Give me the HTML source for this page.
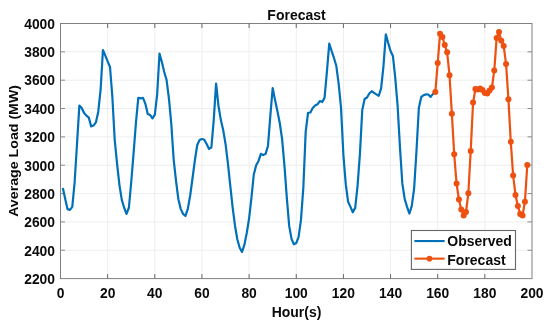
<!DOCTYPE html>
<html lang="en">
<head>
<meta charset="utf-8">
<title>Forecast</title>
<style>html,body{margin:0;padding:0;background:#fff;}body{width:550px;height:326px;overflow:hidden;}</style>
</head>
<body>
<svg width="550" height="326" viewBox="0 0 550 326" style="display:block" font-family='"Liberation Sans", Arial, Helvetica, sans-serif' font-weight="bold" fill="#0a0a0a">
<rect x="0" y="0" width="550" height="326" fill="#ffffff"/>
<path d="M107.65 23.50V278.60M154.80 23.50V278.60M201.95 23.50V278.60M249.10 23.50V278.60M296.25 23.50V278.60M343.40 23.50V278.60M390.55 23.50V278.60M437.70 23.50V278.60M484.85 23.50V278.60M60.50 250.26H532.00M60.50 221.91H532.00M60.50 193.57H532.00M60.50 165.22H532.00M60.50 136.88H532.00M60.50 108.53H532.00M60.50 80.19H532.00M60.50 51.84H532.00" stroke="#eeeeee" stroke-width="1" fill="none"/>
<rect x="60.50" y="23.50" width="471.50" height="255.10" fill="none" stroke="#808080" stroke-width="1"/>
<path d="M107.65 278.60v-4.5M107.65 23.50v4.5M154.80 278.60v-4.5M154.80 23.50v4.5M201.95 278.60v-4.5M201.95 23.50v4.5M249.10 278.60v-4.5M249.10 23.50v4.5M296.25 278.60v-4.5M296.25 23.50v4.5M343.40 278.60v-4.5M343.40 23.50v4.5M390.55 278.60v-4.5M390.55 23.50v4.5M437.70 278.60v-4.5M437.70 23.50v4.5M484.85 278.60v-4.5M484.85 23.50v4.5" stroke="#666666" stroke-width="1" fill="none"/>
<path d="M60.50 250.26h4.5M532.00 250.26h-4.5M60.50 221.91h4.5M532.00 221.91h-4.5M60.50 193.57h4.5M532.00 193.57h-4.5M60.50 165.22h4.5M532.00 165.22h-4.5M60.50 136.88h4.5M532.00 136.88h-4.5M60.50 108.53h4.5M532.00 108.53h-4.5M60.50 80.19h4.5M532.00 80.19h-4.5M60.50 51.84h4.5M532.00 51.84h-4.5" stroke="#8c8c8c" stroke-width="1" fill="none"/>
<polyline points="62.86,187.90 65.22,198.95 67.57,209.16 69.93,209.86 72.29,206.89 74.64,182.23 77.00,143.96 79.36,105.56 81.72,107.97 84.08,112.93 86.43,115.62 88.79,117.60 91.15,126.39 93.50,125.54 95.86,122.42 98.22,111.93 100.58,89.97 102.94,50.00 105.29,55.67 107.65,61.34 110.01,67.01 112.37,97.20 114.72,140.00 117.08,163.81 119.44,185.06 121.80,199.94 124.15,207.74 126.51,213.97 128.87,207.74 131.22,182.23 133.58,153.18 135.94,122.71 138.30,97.90 140.66,98.33 143.01,97.90 145.37,103.86 147.73,113.92 150.08,114.91 152.44,118.31 154.80,114.91 157.16,94.36 159.51,53.55 161.87,62.05 164.23,71.97 166.59,80.05 168.94,98.61 171.30,123.98 173.66,159.55 176.02,180.81 178.38,199.24 180.73,208.87 183.09,213.97 185.45,215.96 187.81,208.87 190.16,195.69 192.52,178.26 194.88,160.26 197.24,144.96 199.59,140.00 201.95,139.00 204.31,139.71 206.66,143.96 209.02,148.92 211.38,147.51 213.74,119.87 216.09,83.59 218.45,105.70 220.81,119.87 223.17,129.93 225.53,143.96 227.88,163.10 230.24,185.49 232.60,207.03 234.96,225.45 237.31,239.20 239.67,247.70 242.03,251.96 244.38,244.87 246.74,232.97 249.10,218.37 251.46,197.53 253.81,174.43 256.17,165.22 258.53,160.97 260.89,153.88 263.25,155.02 265.60,153.88 267.96,145.95 270.32,115.90 272.68,87.98 275.03,100.03 277.39,110.94 279.75,122.99 282.11,139.00 284.46,165.93 286.82,197.82 289.18,225.88 291.53,238.92 293.89,244.30 296.25,243.03 298.61,236.93 300.97,219.93 303.32,187.90 305.68,131.92 308.04,112.93 310.39,112.50 312.75,107.97 315.11,105.56 317.47,104.28 319.82,101.02 322.18,102.01 324.54,97.90 326.90,71.97 329.25,43.62 331.61,50.99 333.97,57.94 336.33,66.02 338.69,84.02 341.04,107.97 343.40,155.30 345.76,184.21 348.12,201.79 350.47,206.89 352.83,212.27 355.19,207.88 357.55,185.91 359.90,154.17 362.26,109.95 364.62,99.04 366.98,97.48 369.33,93.51 371.69,91.24 374.05,92.80 376.40,94.36 378.76,95.78 381.12,88.41 383.48,66.02 385.83,34.41 388.19,43.06 390.55,50.99 392.91,55.95 395.26,77.92 397.62,105.98 399.98,147.51 402.34,183.65 404.69,198.95 407.05,206.89 409.41,213.55 411.77,205.90 414.12,188.61 416.48,151.05 418.84,107.97 421.20,97.20 423.56,95.21 425.91,94.36 428.27,94.50 430.63,96.91 432.99,93.94 435.34,91.95" fill="none" stroke="#0070B8" stroke-width="2.2" stroke-linejoin="round" stroke-linecap="butt"/>
<polyline points="435.34,91.95 437.70,63.04 440.06,33.85 442.42,36.96 444.77,45.04 447.13,52.27 449.49,75.23 451.85,113.64 454.20,154.31 456.56,183.50 458.92,199.52 461.27,209.58 463.63,215.53 465.99,211.99 468.35,193.28 470.70,150.91 473.06,102.58 475.42,88.98 477.78,89.40 480.13,88.41 482.49,89.97 484.85,92.94 487.21,93.51 489.56,90.39 491.92,87.56 494.28,70.41 496.64,37.96 499.00,32.00 501.35,40.65 503.71,46.03 506.07,64.03 508.43,99.32 510.78,141.84 513.14,175.57 515.50,194.98 517.86,205.90 520.21,213.97 522.57,215.53 524.93,201.64 527.29,164.94" fill="none" stroke="#EE5010" stroke-width="2.2" stroke-linejoin="round"/>
<g fill="#EE5010"><circle cx="435.34" cy="91.95" r="3.0"/><circle cx="437.70" cy="63.04" r="3.0"/><circle cx="440.06" cy="33.85" r="3.0"/><circle cx="442.42" cy="36.96" r="3.0"/><circle cx="444.77" cy="45.04" r="3.0"/><circle cx="447.13" cy="52.27" r="3.0"/><circle cx="449.49" cy="75.23" r="3.0"/><circle cx="451.85" cy="113.64" r="3.0"/><circle cx="454.20" cy="154.31" r="3.0"/><circle cx="456.56" cy="183.50" r="3.0"/><circle cx="458.92" cy="199.52" r="3.0"/><circle cx="461.27" cy="209.58" r="3.0"/><circle cx="463.63" cy="215.53" r="3.0"/><circle cx="465.99" cy="211.99" r="3.0"/><circle cx="468.35" cy="193.28" r="3.0"/><circle cx="470.70" cy="150.91" r="3.0"/><circle cx="473.06" cy="102.58" r="3.0"/><circle cx="475.42" cy="88.98" r="3.0"/><circle cx="477.78" cy="89.40" r="3.0"/><circle cx="480.13" cy="88.41" r="3.0"/><circle cx="482.49" cy="89.97" r="3.0"/><circle cx="484.85" cy="92.94" r="3.0"/><circle cx="487.21" cy="93.51" r="3.0"/><circle cx="489.56" cy="90.39" r="3.0"/><circle cx="491.92" cy="87.56" r="3.0"/><circle cx="494.28" cy="70.41" r="3.0"/><circle cx="496.64" cy="37.96" r="3.0"/><circle cx="499.00" cy="32.00" r="3.0"/><circle cx="501.35" cy="40.65" r="3.0"/><circle cx="503.71" cy="46.03" r="3.0"/><circle cx="506.07" cy="64.03" r="3.0"/><circle cx="508.43" cy="99.32" r="3.0"/><circle cx="510.78" cy="141.84" r="3.0"/><circle cx="513.14" cy="175.57" r="3.0"/><circle cx="515.50" cy="194.98" r="3.0"/><circle cx="517.86" cy="205.90" r="3.0"/><circle cx="520.21" cy="213.97" r="3.0"/><circle cx="522.57" cy="215.53" r="3.0"/><circle cx="524.93" cy="201.64" r="3.0"/><circle cx="527.29" cy="164.94" r="3.0"/></g>
<text transform="translate(55.00 283.90) scale(1 1.1)" font-size="13.85" text-anchor="end">2200</text>
<text transform="translate(55.00 255.56) scale(1 1.1)" font-size="13.85" text-anchor="end">2400</text>
<text transform="translate(55.00 227.21) scale(1 1.1)" font-size="13.85" text-anchor="end">2600</text>
<text transform="translate(55.00 198.87) scale(1 1.1)" font-size="13.85" text-anchor="end">2800</text>
<text transform="translate(55.00 170.52) scale(1 1.1)" font-size="13.85" text-anchor="end">3000</text>
<text transform="translate(55.00 142.18) scale(1 1.1)" font-size="13.85" text-anchor="end">3200</text>
<text transform="translate(55.00 113.83) scale(1 1.1)" font-size="13.85" text-anchor="end">3400</text>
<text transform="translate(55.00 85.49) scale(1 1.1)" font-size="13.85" text-anchor="end">3600</text>
<text transform="translate(55.00 57.14) scale(1 1.1)" font-size="13.85" text-anchor="end">3800</text>
<text transform="translate(55.00 28.80) scale(1 1.1)" font-size="13.85" text-anchor="end">4000</text>
<text transform="translate(60.50 298.30) scale(1 1.1)" font-size="13.85" text-anchor="middle">0</text>
<text transform="translate(107.65 298.30) scale(1 1.1)" font-size="13.85" text-anchor="middle">20</text>
<text transform="translate(154.80 298.30) scale(1 1.1)" font-size="13.85" text-anchor="middle">40</text>
<text transform="translate(201.95 298.30) scale(1 1.1)" font-size="13.85" text-anchor="middle">60</text>
<text transform="translate(249.10 298.30) scale(1 1.1)" font-size="13.85" text-anchor="middle">80</text>
<text transform="translate(296.25 298.30) scale(1 1.1)" font-size="13.85" text-anchor="middle">100</text>
<text transform="translate(343.40 298.30) scale(1 1.1)" font-size="13.85" text-anchor="middle">120</text>
<text transform="translate(390.55 298.30) scale(1 1.1)" font-size="13.85" text-anchor="middle">140</text>
<text transform="translate(437.70 298.30) scale(1 1.1)" font-size="13.85" text-anchor="middle">160</text>
<text transform="translate(484.85 298.30) scale(1 1.1)" font-size="13.85" text-anchor="middle">180</text>
<text transform="translate(532.00 298.30) scale(1 1.1)" font-size="13.85" text-anchor="middle">200</text>
<text transform="translate(296.50 19.70) scale(1 1.1)" font-size="14" text-anchor="middle">Forecast</text>
<text transform="translate(296.50 316.80) scale(1 1.1)" font-size="14" text-anchor="middle">Hour(s)</text>
<text transform="translate(18.0 150.9) rotate(-90) scale(1 0.96)" font-size="14.2" text-anchor="middle">Average Load (MW)</text>
<rect x="411.4" y="230.5" width="104.1" height="38.9" fill="#ffffff" stroke="#666666" stroke-width="1.1"/>
<path d="M414.4 241.05H444.6" stroke="#0070B8" stroke-width="2.1"/>
<path d="M414.4 258.65H444.6" stroke="#EE5010" stroke-width="2.1"/>
<circle cx="429.5" cy="258.65" r="2.8" fill="#EE5010"/>
<text transform="translate(447.30 246.45) scale(1 1.1)" font-size="14" text-anchor="start">Observed</text>
<text transform="translate(447.30 264.70) scale(1 1.1)" font-size="14" text-anchor="start">Forecast</text>
</svg>
</body>
</html>
